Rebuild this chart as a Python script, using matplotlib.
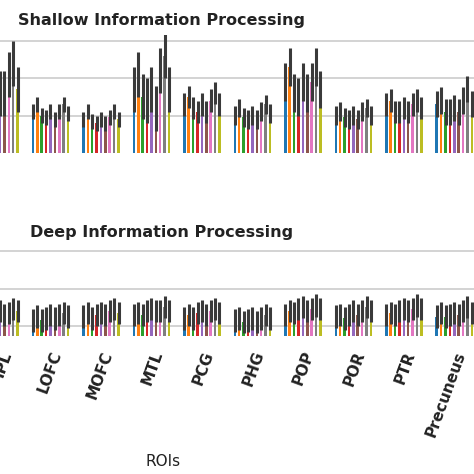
import matplotlib.pyplot as plt
import numpy as np

rois = ['IPL', 'LOFC', 'MOFC', 'MTL', 'PCG', 'PHG', 'POP', 'POR', 'PTR', 'Precuneus']
colors = ['#1f77b4', '#ff7f0e', '#2ca02c', '#d62728', '#9467bd',
          '#8c564b', '#e377c2', '#7f7f7f', '#bcbd22']

shallow = [
    [1.6, 1.5, 1.7, 1.4, 1.6, 1.6, 2.1, 2.4, 1.7],
    [1.1, 1.3, 1.0, 0.95, 1.1, 0.9, 1.1, 1.3, 1.05],
    [0.9, 1.1, 0.85, 0.8, 0.9, 0.8, 0.95, 1.1, 0.9],
    [1.7, 2.1, 1.5, 1.4, 1.7, 1.2, 2.2, 2.6, 1.7],
    [1.3, 1.5, 1.2, 1.1, 1.3, 1.1, 1.4, 1.6, 1.3],
    [1.0, 1.2, 0.95, 0.9, 1.0, 0.9, 1.1, 1.3, 1.05],
    [1.9, 2.3, 1.6, 1.5, 1.9, 1.6, 1.9, 2.3, 1.7],
    [1.0, 1.1, 0.95, 0.9, 1.0, 0.9, 1.1, 1.2, 1.0],
    [1.3, 1.4, 1.1, 1.1, 1.2, 1.1, 1.3, 1.4, 1.2],
    [1.3, 1.4, 1.1, 1.1, 1.2, 1.1, 1.4, 1.7, 1.3],
]
shallow_err = [0.6, 0.2, 0.2, 0.6, 0.3, 0.25, 0.5, 0.25, 0.3, 0.35]

deep = [
    [1.4, 1.3, 1.4, 1.3, 1.4, 1.3, 1.35, 1.45, 1.4],
    [1.15, 1.25, 1.15, 1.2, 1.3, 1.2, 1.3, 1.35, 1.25],
    [1.25, 1.35, 1.2, 1.3, 1.35, 1.3, 1.4, 1.45, 1.35],
    [1.3, 1.35, 1.3, 1.4, 1.45, 1.4, 1.4, 1.5, 1.4],
    [1.2, 1.3, 1.2, 1.35, 1.4, 1.3, 1.4, 1.45, 1.35],
    [1.15, 1.2, 1.1, 1.15, 1.2, 1.1, 1.2, 1.3, 1.2],
    [1.3, 1.4, 1.35, 1.45, 1.5, 1.4, 1.45, 1.55, 1.45],
    [1.25, 1.3, 1.2, 1.3, 1.4, 1.3, 1.4, 1.5, 1.4],
    [1.3, 1.35, 1.3, 1.4, 1.45, 1.4, 1.45, 1.55, 1.45],
    [1.25, 1.35, 1.25, 1.3, 1.35, 1.3, 1.4, 1.5, 1.35],
]
deep_err = [0.3] * 10

fig = plt.figure(figsize=(4.74, 4.74), dpi=100)
ax1 = fig.add_axes([0, 1 - 153 / 474, 1, 118 / 474])
ax2 = fig.add_axes([0, 1 - 336 / 474, 1, 96 / 474])

slot = 0.087
x = np.arange(len(rois))


def draw(ax, vals, errs, ylim):
    vals = np.array(vals)
    for j in range(9):
        xs = x + (j - 4) * slot
        ax.bar(xs, vals[:, j], width=0.05, color=colors[j], zorder=2)
        ax.errorbar(xs, vals[:, j], yerr=errs, fmt='none', ecolor='#3a3a3a',
                    elinewidth=2.2, capsize=0, zorder=3)
    ax.set_xlim(0.1, 9.39)
    ax.set_ylim(*ylim)
    ax.set_yticks([1, 2, 3])
    ax.yaxis.grid(True, color='#cccccc', lw=1.2, zorder=0)
    ax.tick_params(left=False, labelleft=False, bottom=False)
    for s in ax.spines.values():
        s.set_visible(False)


draw(ax1, shallow, shallow_err, (0, 3.15))
ax1.set_xticks(x)
ax1.set_xticklabels([])
draw(ax2, deep, deep_err, (0.73, 3.3))
ax2.set_xticks(x)
ax2.set_xticklabels(rois, rotation=70, ha='right', rotation_mode='anchor',
                    fontsize=11, fontweight='bold', color='#222222')
ax2.tick_params(axis='x', pad=6)

fig.text(18 / 474, 1 - 20 / 474, 'Shallow Information Processing', fontsize=11.5,
         fontweight='bold', color='#222222', va='center')
fig.text(30 / 474, 1 - 232 / 474, 'Deep Information Processing', fontsize=11.5,
         fontweight='bold', color='#222222', va='center')
fig.text(163 / 474, 1 - 462 / 474, 'ROIs', fontsize=11, color='#222222',
         ha='center', va='center')

fig.savefig('out.png', dpi=100)
